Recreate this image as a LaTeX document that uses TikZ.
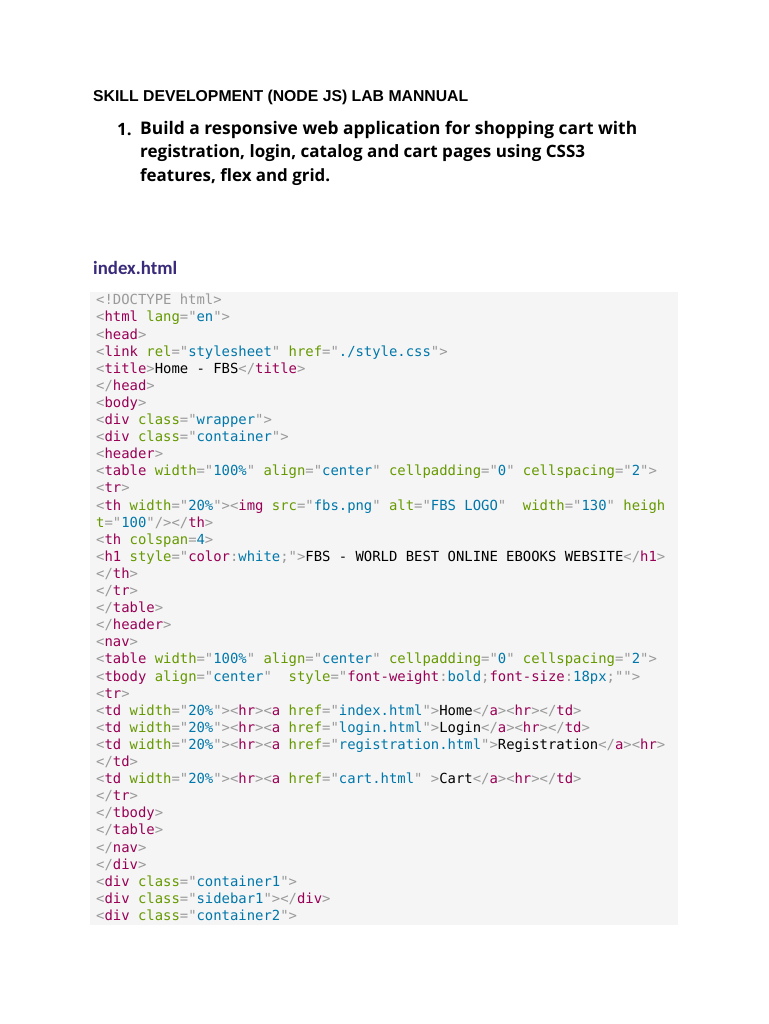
\documentclass[tikz,border=0pt]{standalone}
\usepackage{fontspec}
\setmonofont{DejaVu Sans Mono}
\newfontfamily\hfont{Liberation Sans}
\newfontfamily\bfont{Open Sans}
\newfontfamily\cfont{Carlito}
\definecolor{pun}{HTML}{999999}
\definecolor{tagc}{HTML}{990055}
\definecolor{atn}{HTML}{669900}
\definecolor{atv}{HTML}{0077AA}
\definecolor{doc}{HTML}{708090}
\definecolor{codebg}{HTML}{F5F5F5}
\definecolor{headc}{HTML}{3A2A7A}
\newcommand\pu[1]{\textcolor{pun}{#1}}
\newcommand\tg[1]{\textcolor{tagc}{#1}}
\newcommand\at[1]{\textcolor{atn}{#1}}
\newcommand\vv[1]{\textcolor{atv}{#1}}
\newcommand\va[1]{\pu{"}\vv{#1}\pu{"}}
\newcommand\av[2]{\at{#1}\pu{=}\va{#2}}
\newcommand\ot[1]{\pu{<}\tg{#1}}
\newcommand\ct[1]{\pu{</}\tg{#1}\pu{>}}
\newcommand\gt{\pu{>}}
\begin{document}
\begin{tikzpicture}[x=1pt,y=-1pt,
  cl/.style={anchor=base west,inner sep=0pt,font=\ttfamily\fontsize{13.9}{14}\selectfont}]
\useasboundingbox (0,0) rectangle (768,1024);
\fill[white] (0,0) rectangle (768,1024);
\node (title) [anchor=west,inner sep=0pt] at (93,97) {\resizebox{375pt}{!}{\hfont\bfseries SKILL DEVELOPMENT (NODE JS) LAB MANNUAL}};
\node (num) [anchor=west,inner sep=0pt] at (117,130) {\bfont\bfseries\fontsize{17}{20}\selectfont 1.};
\node (l1) [anchor=west,inner sep=0pt] at (140,130) {\resizebox{497pt}{!}{\bfont\bfseries Build a responsive web application for shopping cart with}};
\node (l2) [anchor=west,inner sep=0pt] at (140,153.5) {\resizebox{445pt}{!}{\bfont\bfseries registration, login, catalog and cart pages using CSS3}};
\node (l3) [anchor=west,inner sep=0pt] at (140,177) {\resizebox{190pt}{!}{\bfont\bfseries features, flex and grid.}};
\node (fn) [anchor=west,inner sep=0pt] at (93,268) {\resizebox{84pt}{!}{\cfont\bfseries\color{headc}index.html}};
\fill[codebg] (90,292) rectangle (678,925);
\foreach \i/\t in {
1/{\pu{<!DOCTYPE html>}},
2/{\ot{html} \av{lang}{en}\gt},
3/{\ot{head}\gt},
4/{\ot{link} \av{rel}{stylesheet} \av{href}{./style.css}\gt},
5/{\ot{title}\gt Home - FBS\ct{title}},
6/{\ct{head}},
7/{\ot{body}\gt},
8/{\ot{div} \av{class}{wrapper}\gt},
9/{\ot{div} \av{class}{container}\gt},
10/{\ot{header}\gt},
11/{\ot{table} \av{width}{100\%} \av{align}{center} \av{cellpadding}{0} \av{cellspacing}{2}\gt},
12/{\ot{tr}\gt},
13/{\ot{th} \av{width}{20\%}\gt\ot{img} \av{src}{fbs.png} \av{alt}{FBS LOGO}\ \ \av{width}{130} \at{heigh}},
14/{\at{t}\pu{=}\va{100}\pu{/>}\ct{th}},
15/{\ot{th} \at{colspan}\pu{=}\vv{4}\gt},
16/{\ot{h1} \at{style}\pu{=}\pu{"}\tg{color}\pu{:}\vv{white}\pu{;"}\gt FBS - WORLD BEST ONLINE EBOOKS WEBSITE\ct{h1}},
17/{\ct{th}},
18/{\ct{tr}},
19/{\ct{table}},
20/{\ct{header}},
21/{\ot{nav}\gt},
22/{\ot{table} \av{width}{100\%} \av{align}{center} \av{cellpadding}{0} \av{cellspacing}{2}\gt},
23/{\ot{tbody} \av{align}{center}\ \ \at{style}\pu{=}\pu{"}\tg{font-weight}\pu{:}\vv{bold}\pu{;}\tg{font-size}\pu{:}\vv{18px}\pu{;""}\gt},
24/{\ot{tr}\gt},
25/{\ot{td} \av{width}{20\%}\gt\ot{hr}\gt\ot{a} \av{href}{index.html}\gt Home\ct{a}\ot{hr}\gt\ct{td}},
26/{\ot{td} \av{width}{20\%}\gt\ot{hr}\gt\ot{a} \av{href}{login.html}\gt Login\ct{a}\ot{hr}\gt\ct{td}},
27/{\ot{td} \av{width}{20\%}\gt\ot{hr}\gt\ot{a} \av{href}{registration.html}\gt Registration\ct{a}\ot{hr}\gt},
28/{\ct{td}},
29/{\ot{td} \av{width}{20\%}\gt\ot{hr}\gt\ot{a} \av{href}{cart.html} \gt Cart\ct{a}\ot{hr}\gt\ct{td}},
30/{\ct{tr}},
31/{\ct{tbody}},
32/{\ct{table}},
33/{\ct{nav}},
34/{\ct{div}},
35/{\ot{div} \av{class}{container1}\gt},
36/{\ot{div} \av{class}{sidebar1}\gt\ct{div}},
37/{\ot{div} \av{class}{container2}\gt}}
  \node (c\i) [cl] at (96,{300+(\i-1)*17.1+4.8}) {\t};
\end{tikzpicture}
\end{document}
